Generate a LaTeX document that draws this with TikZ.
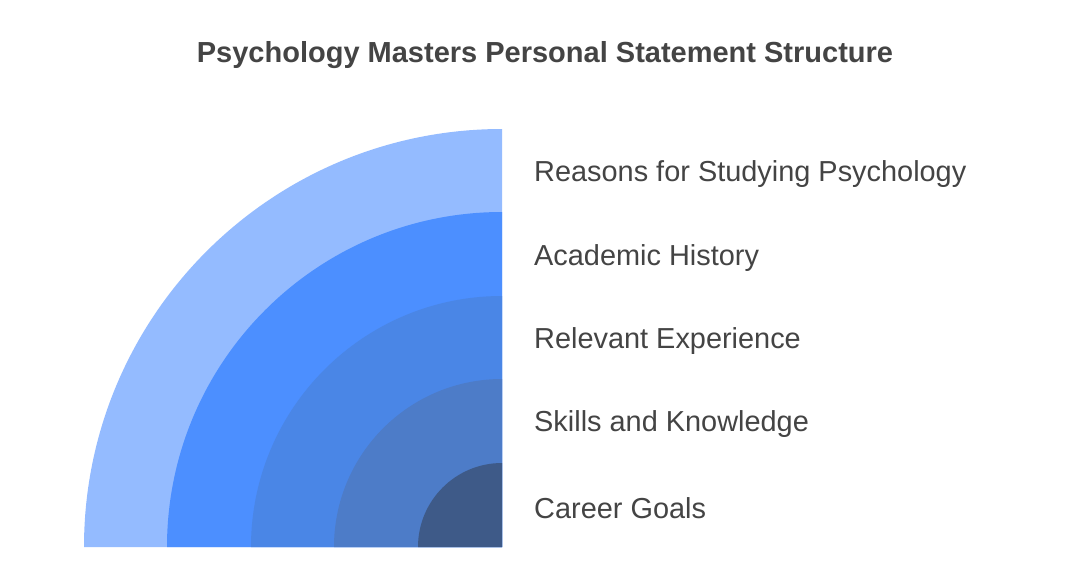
\documentclass[tikz,border=0pt]{standalone}
\usepackage{fontspec}
\setmainfont{Liberation Sans}
\definecolor{cA}{HTML}{94BBFF}
\definecolor{cB}{HTML}{4C8FFF}
\definecolor{cC}{HTML}{4A86E6}
\definecolor{cD}{HTML}{4D7CC8}
\definecolor{cE}{HTML}{3E5A88}
\definecolor{txt}{HTML}{444444}
\begin{document}
\begin{tikzpicture}[x=1pt,y=-1pt,
  lbl/.style={anchor=west,text=txt,font=\fontsize{28.9}{33}\selectfont,inner sep=0pt},
  ttl/.style={text=txt,font=\bfseries\fontsize{29}{34}\selectfont,inner sep=0pt}]
\useasboundingbox[fill=white] (0,0) rectangle (1080,565);
\coordinate (c) at (502,547);
\foreach \r/\col in {418/cA,335/cB,251/cC,168/cD,84/cE}{
  \fill[\col] (c) -- ++(-\r,0) arc[start angle=180,end angle=270,radius=\r] -- cycle;
}
\node[ttl] (title) at (545,55) {Psychology Masters Personal Statement Structure};
\node[lbl] (l1) at (534,174) {Reasons for Studying Psychology};
\node[lbl] (l2) at (534,258) {Academic History};
\node[lbl] (l3) at (534,341) {Relevant Experience};
\node[lbl] (l4) at (534,424) {Skills and Knowledge};
\node[lbl] (l5) at (534,508) {Career Goals};
\end{tikzpicture}
\end{document}
